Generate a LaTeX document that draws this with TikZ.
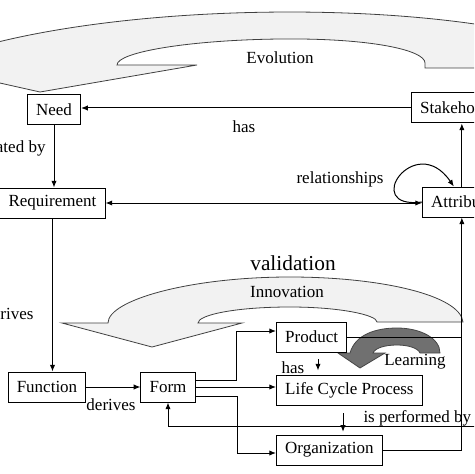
\documentclass[tikz,border=0pt]{standalone}
\usepackage{fontspec}
\setmainfont{Liberation Serif}
\usetikzlibrary{arrows.meta}

\tikzset{every picture/.style={line width=0.75pt}}
\tikzset{
  box/.style={draw, fill=white, inner xsep=6.5pt, minimum height=22.5pt, font=\fontsize{12.75}{15}\selectfont},
  lbl/.style={inner sep=0.75pt, font=\fontsize{12.75}{15}\selectfont},
  band/.style={draw={rgb, 255:red, 64; green, 64; blue, 64}, line width=0.6pt, fill={rgb, 255:red, 242; green, 242; blue, 242}},
  darkband/.style={draw={rgb, 255:red, 70; green, 70; blue, 70}, line width=0.6pt, fill={rgb, 255:red, 112; green, 112; blue, 112}},
}

\begin{document}
\begin{tikzpicture}[x=0.75pt,y=0.75pt,yscale=-1,xscale=1,>={Latex[length=5pt,width=4pt]}]
\clip (0,0) rectangle (474,474);

%Shape: Evolution band
\draw [band] (500,28) .. controls (350,2) and (130,8) .. (-10,44) -- (-10,80.8) -- (40,92) -- (197,65) -- (117,65) .. controls (117,52) and (190,40) .. (280,39) .. controls (370,38) and (425,50) .. (425,63) -- (425,68) -- (500,68) -- cycle ;
%Shape: Innovation band
\draw [band] (463,322) .. controls (460,295) and (380,277) .. (290,277) .. controls (190,277) and (108,300) .. (108,323) -- (62,323) -- (152,347) -- (242,323) -- (198,323) .. controls (198,315) and (235,307) .. (290,307) .. controls (340,307) and (377,315) .. (377,322) -- cycle ;
%Shape: Learning arrow
\draw [darkband] (440,353) .. controls (440,338) and (420,328) .. (397,328) .. controls (375,328) and (355,335) .. (350,353) -- (338,353) -- (360,368) -- (385,353) -- (373,353) .. controls (375,348) and (385,345) .. (397,345) .. controls (408,345) and (418,348) .. (420,353) -- cycle ;

% Nodes
\node [box] (need) at (54,110) {Need};
\node [box, anchor=west] (stake) at (411,108) {Stakeholder};
\node [box] (req) at (52.5,203) {Requirement};
\node [box, anchor=west] (attr) at (422,202) {Attribute};
\node [box] (func) at (47,387) {Function};
\node [box] (form) at (168,387) {Form};
\node [box, anchor=west] (prod) at (276,337) {Product};
\node [box, anchor=west] (lcp) at (276,390) {Life Cycle Process};
\node [box, anchor=west] (org) at (276,450) {Organization};

\coordinate (hasTop) at (318,359);
\coordinate (perfTop) at (343,413);
\coordinate (perfIn) at (480,426);

%Straight Lines
\draw [->] (stake.west) -- (stake.west -| need.east);
\draw [->] (need.south) -- (need.south |- req.north);
\draw [<->] (req.east) -- (req.east -| attr.west);
\draw [->] (attr.north) -- (attr.north |- stake.south);
%Curve Lines
\draw [->] (attr.west) .. controls (360,210) and (415,130) .. ([xshift=-6pt]attr.north);
%Straight Lines
\draw [->] (req.south) -- (req.south |- func.north);
\draw [->] (func.east) -- (form.west);
\draw [->] (form.east |- 0,380) -- (236,380) |- (prod.west |- 0,331);
\draw [->] (form.east) -- (form.east -| lcp.west);
\draw [->] (form.east |- 0,396) -- (237,396) |- (org.west |- 0,453);
\draw (prod.east) -- (prod.east -| attr.south);
\draw [->] (org.east) -| (attr.south);
\draw [->, shorten >=3pt] (hasTop) -- (hasTop |- lcp.north);
\draw [->, shorten >=2pt] (perfTop) -- (perfTop |- org.north);
\draw [->] (perfIn) -| (form.south);

% Text Node
\node [lbl] (evol) at (280,58) {Evolution};
% Text Node
\node [lbl] (hasA) at (244,127) {has};
% Text Node
\node [lbl, anchor=east] (genBy) at (47,148) {is generated by};
% Text Node
\node [lbl] (rel) at (340,179) {relationships};
% Text Node
\node [lbl, font=\fontsize{16}{19}\selectfont] (valid) at (293,263) {validation};
% Text Node
\node [lbl] (innov) at (287,292) {Innovation};
% Text Node
\node [lbl, anchor=east] (derA) at (35,314) {derives};
% Text Node
\node [lbl] (derB) at (111,405) {derives};
% Text Node
\node [lbl] (hasB) at (293,368) {has};
% Text Node
\node [lbl] (learn) at (415,362) {Learning};
% Text Node
\node [lbl, anchor=west] (perf) at (362,418) {is performed by};
\end{tikzpicture}
\end{document}
